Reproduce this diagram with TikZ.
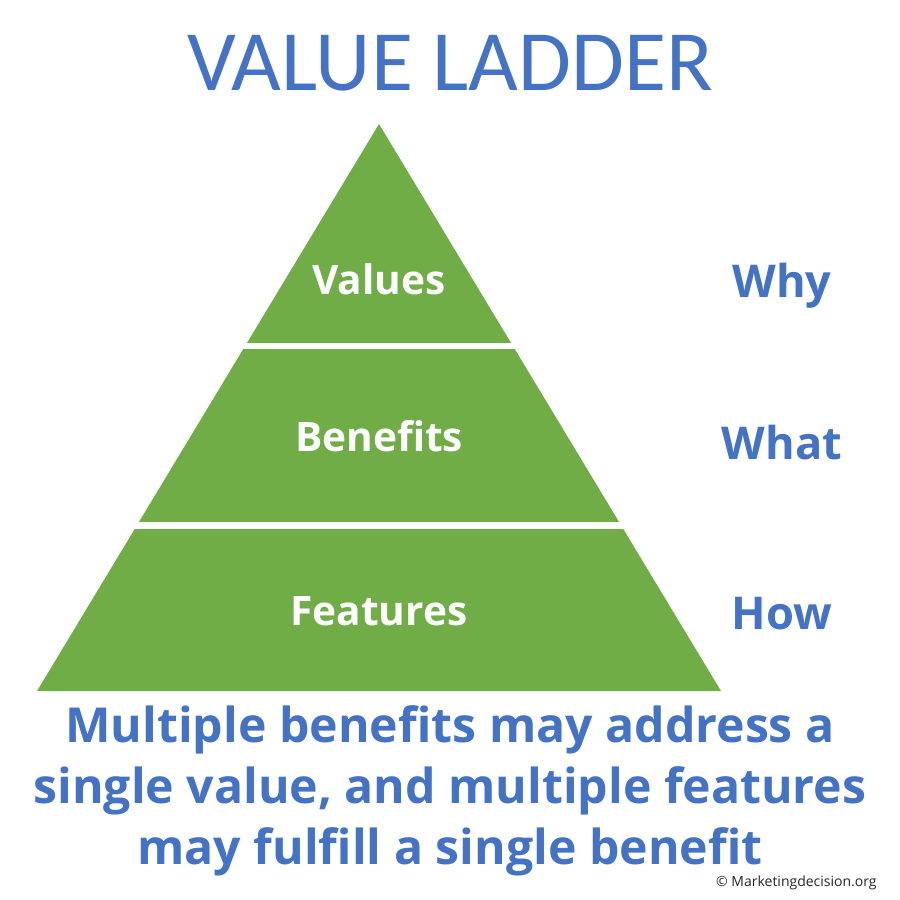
\documentclass[tikz,border=0pt]{standalone}
\usepackage{fontspec}
\setmainfont{Open Sans}
\newfontfamily\titlefont{Carlito}
\usepackage{tikz}
\definecolor{LadderGreen}{RGB}{112,173,71}
\definecolor{LadderBlue}{RGB}{68,114,196}
\definecolor{LadderInk}{RGB}{38,38,38}

\begin{document}
\begin{tikzpicture}[x=0.5pt,y=-0.5pt,
  level/.style={font=\bfseries\fontsize{20.3}{22}\selectfont,text=white,anchor=base},
  ask/.style={font=\bfseries\fontsize{22.6}{25}\selectfont,text=LadderBlue,anchor=base},
  gap/.style={draw=white,line width=3.2pt}]
  \useasboundingbox (0,0) rectangle (900,900);
  \node[font=\titlefont\fontsize{43}{46}\selectfont,text=LadderBlue,anchor=base] (title) at (450,90) {VALUE LADDER};
  % pyramid
  \coordinate (apex) at (379,124);
  \coordinate (bl) at (37,691);
  \coordinate (br) at (721,691);
  \fill[LadderGreen] (apex) -- (br) -- (bl) -- cycle;
  \draw[gap] (100,346) -- (660,346);
  \draw[gap] (60,525.5) -- (700,525.5);
  \node[level] (values) at (379,294) {Values};
  \node[level] (benefits) at (379,451) {Benefits};
  \node[level] (features) at (379,625) {Features};
  \node[ask] (why) at (782,297) {Why};
  \node[ask] (what) at (782,459) {What};
  \node[ask] (how) at (782,629) {How};
  \node[font=\bfseries\fontsize{24.1}{30.5}\selectfont,text=LadderBlue,align=center,anchor=base] (note) at (450,864)
    {Multiple benefits may address a\\single value, and multiple features\\may fulfill a single benefit};
  \node[font=\fontsize{7}{8}\selectfont,text=LadderInk,anchor=base east,inner sep=0pt] (credit) at (877,886) {© Marketingdecision.org};
\end{tikzpicture}
\end{document}
